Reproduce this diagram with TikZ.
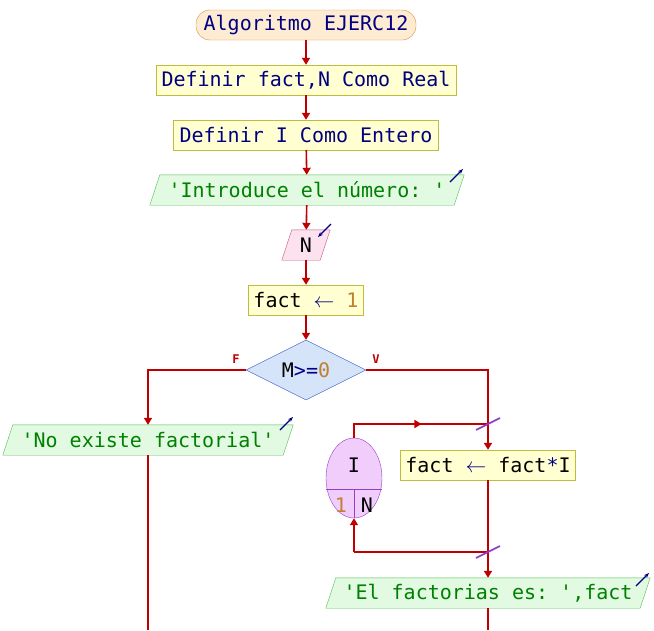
\documentclass[tikz,border=0pt]{standalone}
\usepackage{fontspec}
\setmonofont{DejaVu Sans Mono}
\usetikzlibrary{shapes.geometric,arrows.meta,decorations.markings}
\definecolor{fl}{HTML}{C00000}
\definecolor{kw}{HTML}{000080}
\definecolor{num}{HTML}{C08030}
\definecolor{strg}{HTML}{008000}
\newcommand{\asg}{\textcolor{kw}{$\leftarrow$}}
\tikzset{
 every node/.style={font=\ttfamily\fontsize{20}{21}\selectfont, inner sep=0pt},
 flow/.style={draw=fl, line width=1.6pt, -{Triangle[length=7pt,width=8pt]}},
 line/.style={draw=fl, line width=1.6pt},
 procbox/.style={draw={rgb,255:red,190;green,190;blue,60}, fill={rgb,255:red,255;green,255;blue,210}, minimum height=30pt, inner xsep=5pt},
 outtext/.style={minimum height=30pt, text=strg},
 outfill/.style={draw={rgb,255:red,80;green,190;blue,80}, fill={rgb,255:red,225;green,250;blue,225}},
 infill/.style={draw={rgb,255:red,200;green,80;blue,120}, fill={rgb,255:red,252;green,225;blue,238}},
 icon/.style={draw=kw, line width=1.3pt, -{Stealth[length=5pt]}},
 slash/.style={draw={rgb,255:red,140;green,60;blue,200}, line width=1.6pt},
 lbl/.style={text=fl, font=\ttfamily\bfseries\fontsize{12}{12}\selectfont}
}
\newcommand{\para}[2]{\path[#2] ([xshift=5pt]#1.north west) -- ([xshift=5pt]#1.north east) -- ([xshift=-5pt]#1.south east) -- ([xshift=-5pt]#1.south west) -- cycle;}
\begin{document}
\begin{tikzpicture}[x=1pt,y=-1pt]
\useasboundingbox (0,0) rectangle (654,630);
\node[draw={rgb,255:red,220;green,140;blue,60}, fill={rgb,255:red,253;green,235;blue,210}, rounded corners=14pt, minimum width=220pt, minimum height=30pt, text=kw] (start) at (306,25) {Algoritmo EJERC12};
\node[procbox, minimum width=300pt, text=kw] (d1) at (306,80) {Definir fact,N Como Real};
\node[procbox, minimum width=265pt, text=kw] (d2) at (306,135) {Definir I Como Entero};
\node[outtext, minimum width=304pt] (o1) at (307,190) {};
\para{o1}{outfill}
\node[text=strg] at (o1) {'Introduce el número: '};
\node[minimum width=38pt, minimum height=30pt] (in) at (306,245) {};
\para{in}{infill}
\node at (in) {N};
\node[procbox, minimum width=108pt] (a1) at (306,300) {fact \asg{} \textcolor{num}{1}};
\node[diamond, draw={rgb,255:red,60;green,100;blue,200}, fill={rgb,255:red,214;green,228;blue,250}, minimum width=120pt, minimum height=60pt, aspect=2] (dec) at (306,370) {M\textcolor{kw}{>=}\textcolor{num}{0}};
\node[lbl] at (236,359) {F};
\node[lbl] at (376,359) {V};
\node[outtext, minimum width=280pt] (o2) at (148,440) {};
\para{o2}{outfill}
\node[text=strg] at (o2) {'No existe factorial'};
\node[procbox, minimum width=168pt] (a2) at (488,465) {fact \asg{} fact\textcolor{kw}{*}I};
\node[ellipse, draw={rgb,255:red,150;green,60;blue,200}, fill={rgb,255:red,240;green,205;blue,250}, minimum width=56pt, minimum height=80pt] (loop) at (354,478) {};
\draw[draw={rgb,255:red,150;green,60;blue,200}] (326,489) -- (382,489) (354,489) -- (354,518);
\node at (354,465) {I};
\node[text=num] at (341,505) {1};
\node at (367,505) {N};
\node[outtext, minimum width=314pt] (o3) at (488,593) {};
\para{o3}{outfill}
\node[text=strg] at (o3) {'El factorias es: ',fact};
% icons
\draw[icon] (450,182) -- (463,169);
\draw[icon] (331,224) -- (318,237);
\draw[icon] (280,430) -- (293,417);
\draw[icon] (636,586) -- (649,573);
% connectors
\draw[flow] (start) -- (d1);
\draw[flow] (d1) -- (d2);
\draw[flow] (d2) -- (o1);
\draw[flow] (o1) -- (in);
\draw[flow] (in) -- (a1);
\draw[flow] (a1) -- (dec);
\draw[flow] (dec.west) -| (o2.north);
\coordinate (e1) at (148,630);
\draw[line] (o2.south) -- (e1);
\draw[flow] (dec.east) -| (a2.north);
\coordinate (tl) at (354,424);
\coordinate (bl) at (354,552);
\coordinate (br) at (488,552);
\draw[line, postaction={decorate}, decoration={markings, mark=at position 0.55 with {\arrow{Triangle[length=7pt,width=8pt]}}}] (loop.north) -- (tl) -- (488,424);
\draw[line] (a2.south) -- (br) -- (bl);
\draw[flow] (bl) -- (loop.south);
\draw[flow] (br) -- (o3.north);
\coordinate (e2) at (488,630);
\draw[line] (o3.south) -- (e2);
\draw[slash] (476,430) -- (500,418);
\draw[slash] (476,558) -- (500,546);
\end{tikzpicture}
\end{document}
